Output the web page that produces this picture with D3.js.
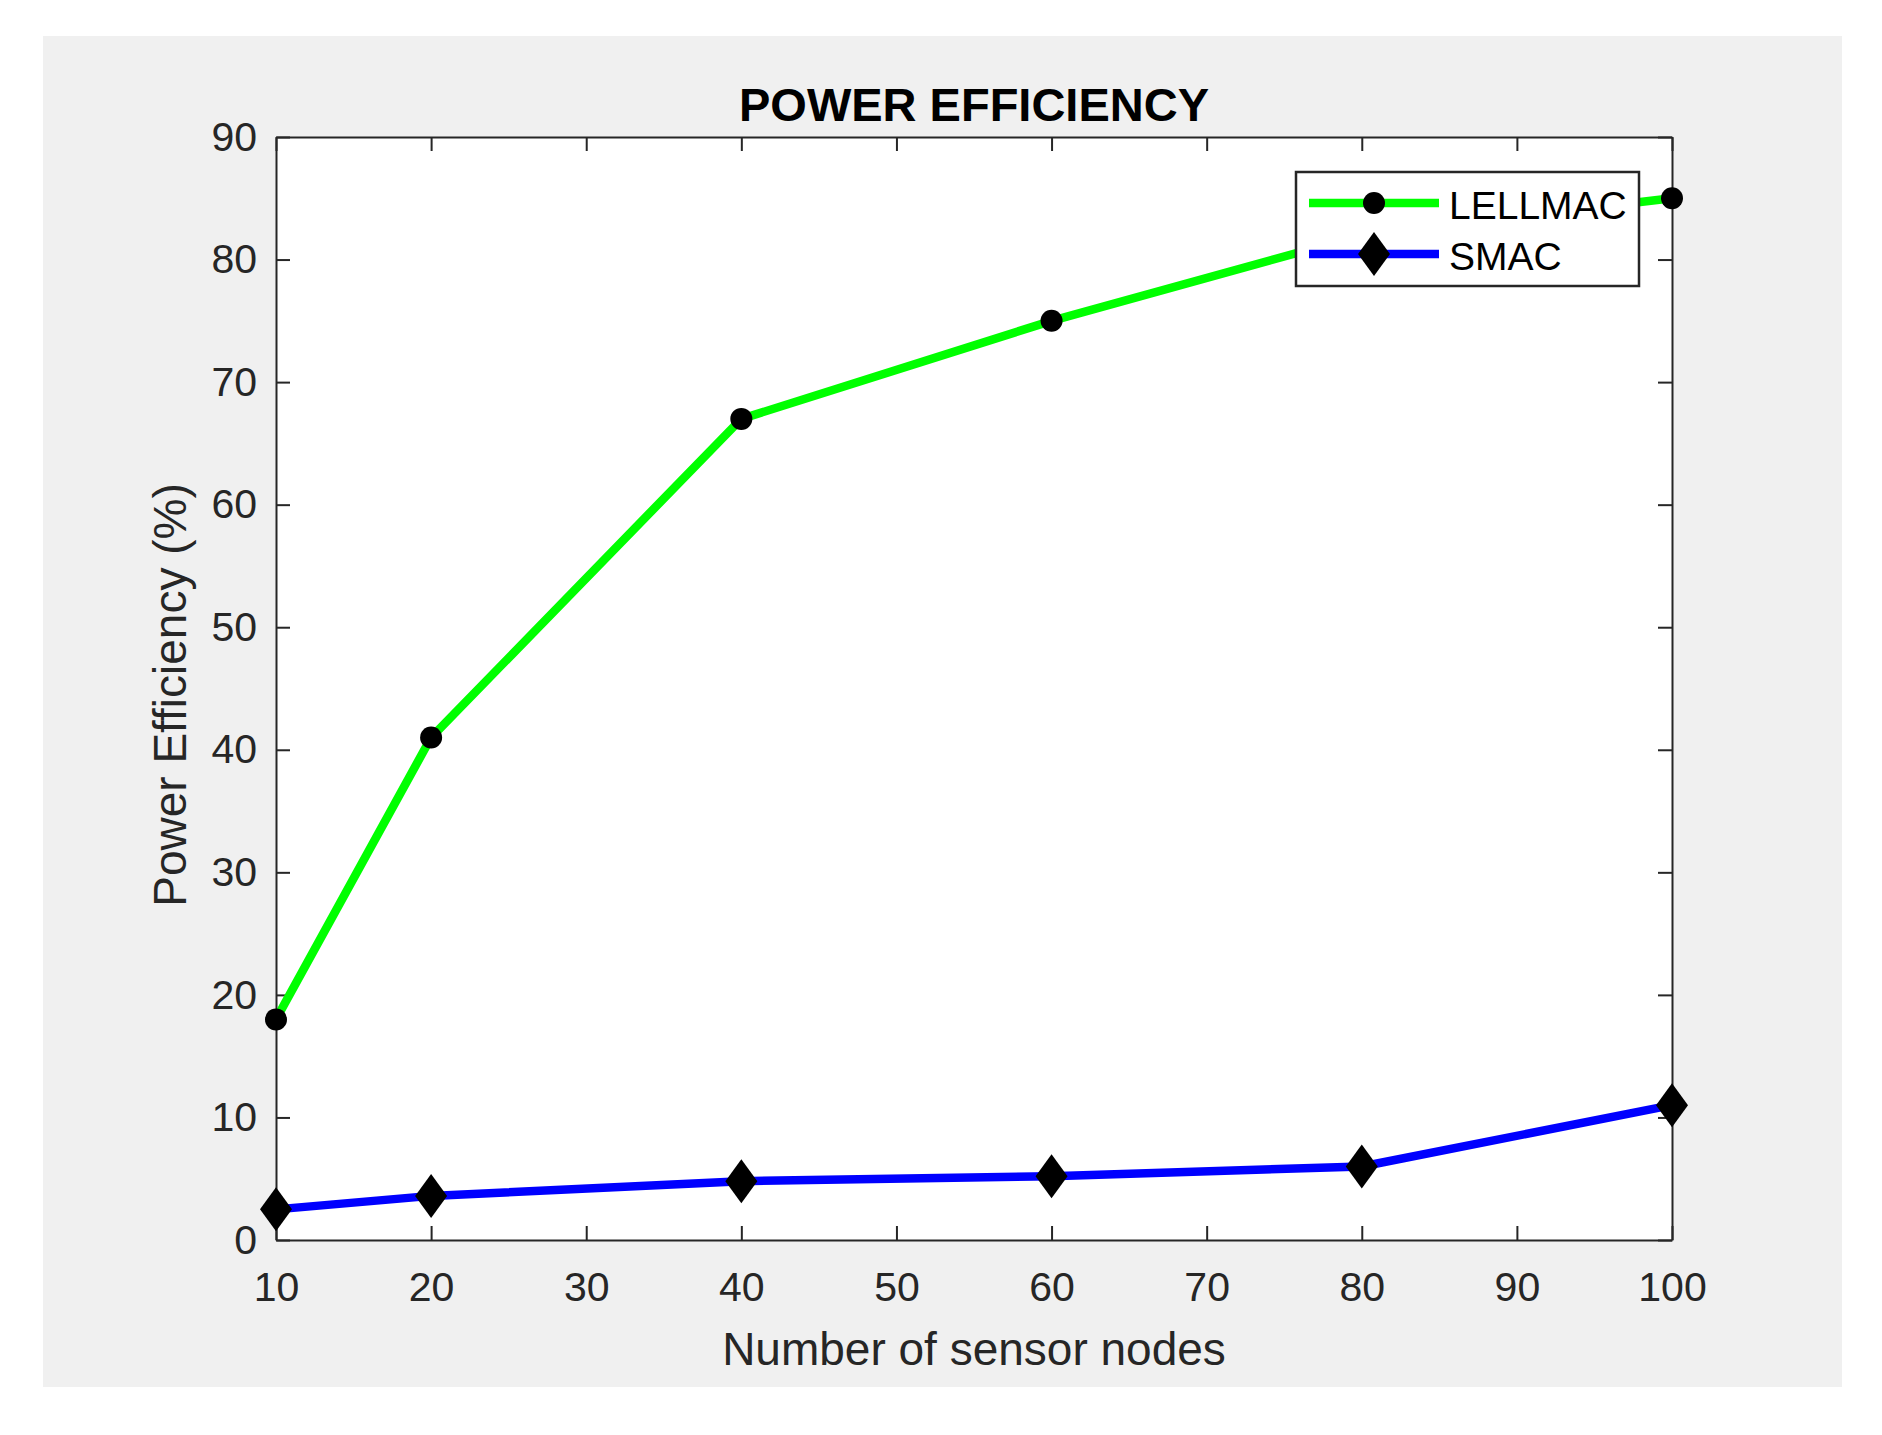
<!DOCTYPE html>
<html lang="en">
<head>
    <meta charset="UTF-8">
    <title>POWER EFFICIENCY</title>
    <script src="https://cdn.jsdelivr.net/npm/d3@7"></script>
    <style>
        body{
            margin:0px;
            background:#ffffff;
        }
        svg{
            position:absolute;
            left:0px;
            top:0px;
        }
        text{
            font-family:"Liberation Sans", Arial, sans-serif;
        }
    </style>
</head>
<body>
    <svg id="chart" width="1882" height="1435"></svg>
    <script>
        // data
        var nodes = [10, 20, 40, 60, 80, 100]
        var lellmac = [18, 41, 67, 75, 82, 85]
        var smac = [2.5, 3.6, 4.8, 5.2, 6, 11]
        var xTicks = [10, 20, 30, 40, 50, 60, 70, 80, 90, 100]
        var yTicks = [0, 10, 20, 30, 40, 50, 60, 70, 80, 90]
        var seriesNames = ["LELLMAC", "SMAC"]

        var svg = d3.select("#chart")
        var axisColor = "#262626"

        // plot box in page pixels (note: "top" is reserved on window, so use plot* names)
        var plotLeft = 276, plotRight = 1672, plotTop = 137, plotBottom = 1240

        var x = d3.scaleLinear().domain([10, 100]).range([plotLeft, plotRight])
        var y = d3.scaleLinear().domain([0, 90]).range([plotBottom, plotTop])

        // grey figure background
        svg.append("rect")
            .attr("x", 43).attr("y", 36)
            .attr("width", 1799).attr("height", 1351)
            .attr("fill", "#f0f0f0")

        svg.append("rect")
            .attr("x", plotLeft).attr("y", plotTop)
            .attr("width", plotRight - plotLeft).attr("height", plotBottom - plotTop)
            .attr("fill", "#ffffff")

        function styleAxis(g){
            g.selectAll("path").attr("stroke", axisColor).attr("stroke-width", 2)
            g.selectAll("line").attr("stroke", axisColor).attr("stroke-width", 2)
            g.selectAll("text")
                .attr("fill", axisColor)
                .style("font-size", "41px")
                .style("font-family", "'Liberation Sans', Arial, sans-serif")
        }

        var gx = svg.append("g")
            .attr("transform", "translate(0," + plotBottom + ")")
            .call(d3.axisBottom(x).tickValues(xTicks).tickSizeInner(-14).tickSizeOuter(0).tickPadding(32))
        styleAxis(gx)

        var gy = svg.append("g")
            .attr("transform", "translate(" + plotLeft + ",0)")
            .call(d3.axisLeft(y).tickValues(yTicks).tickSizeInner(-14).tickSizeOuter(0).tickPadding(19))
        styleAxis(gy)

        var gxTop = svg.append("g")
            .attr("transform", "translate(0," + plotTop + ")")
            .call(d3.axisTop(x).tickValues(xTicks).tickSizeInner(-14).tickSizeOuter(0).tickFormat(""))
        styleAxis(gxTop)

        var gyRight = svg.append("g")
            .attr("transform", "translate(" + plotRight + ",0)")
            .call(d3.axisRight(y).tickValues(yTicks).tickSizeInner(-14).tickSizeOuter(0).tickFormat(""))
        styleAxis(gyRight)

        // title and axis labels
        svg.append("text")
            .attr("x", (plotLeft + plotRight) / 2).attr("y", 121)
            .attr("text-anchor", "middle")
            .style("font-size", "47px")
            .style("font-weight", "bold")
            .attr("fill", "#000000")
            .text("POWER EFFICIENCY")

        svg.append("text")
            .attr("x", (plotLeft + plotRight) / 2).attr("y", 1365)
            .attr("text-anchor", "middle")
            .style("font-size", "46px")
            .attr("fill", axisColor)
            .text("Number of sensor nodes")

        svg.append("text")
            .attr("transform", "translate(186,695) rotate(-90)")
            .attr("text-anchor", "middle")
            .style("font-size", "46px")
            .attr("fill", axisColor)
            .text("Power Efficiency (%)")

        var lineFunction = d3.line()
            .x(function(d) { return x(d[0]) })
            .y(function(d) { return y(d[1]) })

        var greenPts = nodes.map(function(n, i){ return [n, lellmac[i]] })
        var bluePts = nodes.map(function(n, i){ return [n, smac[i]] })

        svg.append("path")
            .attr("d", lineFunction(greenPts))
            .attr("stroke", "#00ff00")
            .attr("stroke-width", 8.5)
            .attr("stroke-linejoin", "round")
            .style("fill", "none")

        svg.append("path")
            .attr("d", lineFunction(bluePts))
            .attr("stroke", "#0000ff")
            .attr("stroke-width", 8.5)
            .attr("stroke-linejoin", "round")
            .style("fill", "none")

        var diamond = "M0,-22 L16,0 L0,22 L-16,0 Z"

        svg.selectAll(".dot")
            .data(greenPts)
            .enter().append("circle")
            .attr("class", "dot")
            .attr("cx", function(d){ return x(d[0]) })
            .attr("cy", function(d){ return y(d[1]) })
            .attr("r", 11)
            .attr("fill", "#000000")

        svg.selectAll(".dia")
            .data(bluePts)
            .enter().append("path")
            .attr("class", "dia")
            .attr("d", diamond)
            .attr("transform", function(d){ return "translate(" + x(d[0]) + "," + y(d[1]) + ")" })
            .attr("fill", "#000000")

        // legend
        var lg = svg.append("g")
        lg.append("rect")
            .attr("x", 1296).attr("y", 172)
            .attr("width", 343).attr("height", 114)
            .attr("fill", "#ffffff")
            .attr("stroke", axisColor)
            .attr("stroke-width", 2.5)

        var legendRows = [
            {name: seriesNames[0], color: "#00ff00", y: 203, marker: "circle"},
            {name: seriesNames[1], color: "#0000ff", y: 254, marker: "diamond"}
        ]
        legendRows.forEach(function(r){
            lg.append("line")
                .attr("x1", 1309).attr("x2", 1439)
                .attr("y1", r.y).attr("y2", r.y)
                .attr("stroke", r.color)
                .attr("stroke-width", 8.5)
            if (r.marker == "circle"){
                lg.append("circle").attr("cx", 1374).attr("cy", r.y).attr("r", 11).attr("fill", "#000000")
            } else {
                lg.append("path").attr("d", diamond)
                    .attr("transform", "translate(1374," + r.y + ")")
                    .attr("fill", "#000000")
            }
            lg.append("text")
                .attr("x", 1449).attr("y", r.y + 16)
                .style("font-size", "39px")
                .attr("fill", "#000000")
                .text(r.name)
        })
    </script>
</body>
</html>
